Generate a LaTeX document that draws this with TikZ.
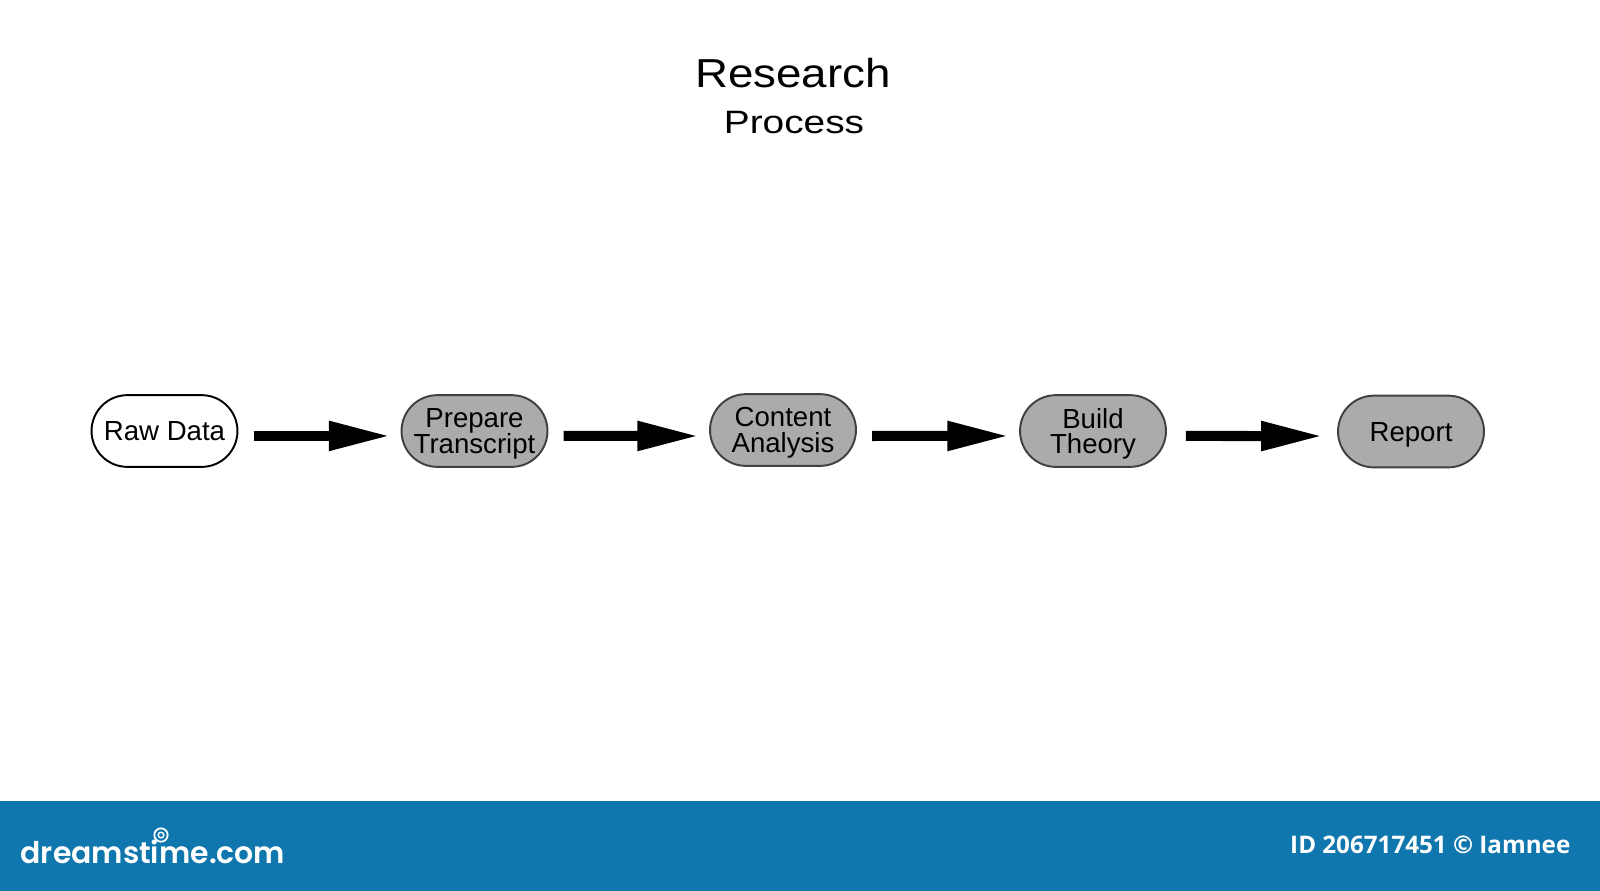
\documentclass[tikz,border=0pt]{standalone}
\usepackage{fontspec}
\setmainfont{Liberation Sans}
\newfontfamily\titlefont[FakeStretch=1.13]{Liberation Sans}
\newfontfamily\subtitlefont[FakeStretch=1.2]{Liberation Sans}
\newfontfamily\logofont{Poppins SemiBold}
\newfontfamily\idfont{Open Sans}
\usetikzlibrary{arrows.meta,shapes.misc}
\definecolor{barblue}{HTML}{1077AE}
\definecolor{stepgray}{HTML}{ABABAB}
\definecolor{edgegray}{HTML}{404040}
\normallineskiplimit=-5pt
\lineskiplimit=-5pt
\tikzset{
    pill/.style={draw,rounded rectangle,align=center,inner sep=0pt,text depth=0pt,
        minimum width=41.5pt,minimum height=20.4pt,line width=0.55pt,
        font=\fontsize{7.85}{7.3}\selectfont},
    graypill/.style={pill,draw=edgegray,fill=stepgray},
    flow/.style={line width=2.85pt,shorten <=4.3pt,shorten >=2.8pt,
        -{Triangle[length=17.6pt,width=7.8pt]}}
}
\begin{document}
\begin{tikzpicture}[x=0.01cm,y=-0.01cm]
\useasboundingbox (0,0) rectangle (1600,890);
\node [anchor=base,font=\titlefont\fontsize{11.5}{11.5}\selectfont] (title) at (793,87) {Research};
\node [anchor=base,font=\subtitlefont\fontsize{9.2}{9.2}\selectfont] (subtitle) at (794,133) {Process};
\node [pill] (raw) at (164.5,431) {Raw Data};
\node [graypill] (prepare) at (474.5,431) {Prepare\\ Transcript};
\node [graypill] (content) at (783,430) {Content\\ Analysis};
\node [graypill] (build) at (1093,431) {Build\\ Theory};
\node [graypill] (report) at (1411,431.5) {Report};
\draw [flow] ([yshift=-1.4pt]raw.east) -- ([yshift=-1.4pt]prepare.west);
\draw [flow] ([yshift=-1.4pt]prepare.east) -- ([yshift=-1.7pt]content.west);
\draw [flow] ([yshift=-1.7pt]content.east) -- ([yshift=-1.4pt]build.west);
\draw [flow,shorten <=5.4pt,shorten >=4pt] ([yshift=-1.4pt]build.east) -- ([yshift=-1.3pt]report.west);
\node [fill=barblue,anchor=north west,inner sep=0pt,minimum width=16.2cm,minimum height=0.95cm] (bar) at (-10,800) {};
\node [anchor=base west,inner sep=0pt,text=white,font=\logofont\fontsize{8.5}{8.5}\selectfont] (logo) at (20,863) {dreamstime.com};
\node [circle,draw=white,line width=0.5pt,inner sep=0pt,minimum size=3.8pt] (spiral) at (161,835) {};
\node [circle,draw=white,line width=0.4pt,inner sep=0pt,minimum size=1.6pt] (spiralcore) at (161,835) {};
\node [anchor=base east,inner sep=0pt,text=white,font=\idfont\fontsize{6.88}{6.88}\selectfont\bfseries] (id) at (1571,853) {ID 206717451 © Iamnee};
\end{tikzpicture}
\end{document}
